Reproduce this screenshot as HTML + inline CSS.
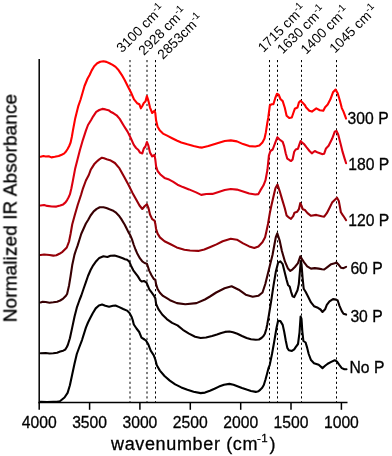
<!DOCTYPE html>
<html><head><meta charset="utf-8"><style>
html,body{margin:0;padding:0;background:#fff;}
svg{display:block;}
text{font-family:"Liberation Sans",sans-serif;fill:#000;}
.t{opacity:0.999;}
.t text{stroke:#000;stroke-width:0.3px;}
.t .nl text{stroke:none;}
</style></head><body>
<svg width="392" height="456" viewBox="0 0 392 456">
<g><line x1="130.0" y1="60.0" x2="130.0" y2="402" stroke="#000" stroke-width="1" stroke-dasharray="2.2 2.674"/><line x1="147.0" y1="60.0" x2="147.0" y2="402" stroke="#000" stroke-width="1" stroke-dasharray="2.2 2.674"/><line x1="155.5" y1="60.0" x2="155.5" y2="402" stroke="#000" stroke-width="1" stroke-dasharray="2.2 2.674"/><line x1="269.5" y1="60.0" x2="269.5" y2="402" stroke="#000" stroke-width="1" stroke-dasharray="2.2 2.674"/><line x1="277.5" y1="60.0" x2="277.5" y2="402" stroke="#000" stroke-width="1" stroke-dasharray="2.2 2.674"/><line x1="301.5" y1="60.0" x2="301.5" y2="402" stroke="#000" stroke-width="1" stroke-dasharray="2.2 2.674"/><line x1="336.5" y1="60.0" x2="336.5" y2="402" stroke="#000" stroke-width="1" stroke-dasharray="2.2 2.674"/></g>
<g fill="none" stroke-width="2.1" stroke-linejoin="round" stroke-linecap="round"><polyline points="40.6,401.9 47.0,402.0 53.3,401.9 57.0,401.8 59.9,401.2 64.5,397.5 67.6,392.9 69.9,385.2 72.2,374.5 74.5,363.8 76.8,354.0 79.0,348.0 82.1,339.8 85.9,327.6 88.0,322.5 90.0,318.6 92.6,313.5 95.7,308.4 98.9,305.5 102.1,304.6 105.3,305.8 109.1,306.7 113.0,305.8 115.5,305.5 119.3,307.1 123.2,309.0 127.0,310.6 129.5,312.9 131.5,316.7 132.7,320.0 133.8,324.5 136.5,328.5 139.2,332.0 141.5,337.6 144.5,339.5 146.1,340.8 148.4,344.6 150.7,350.7 153.8,355.3 155.3,359.5 156.8,365.3 159.9,370.6 164.5,376.0 169.8,380.6 175.2,384.4 181.3,387.4 187.4,389.7 193.6,391.7 200.7,393.1 205.0,392.6 209.9,390.8 214.5,388.8 219.0,386.6 224.0,384.8 229.4,383.9 233.5,384.7 237.4,386.2 242.0,388.0 246.6,389.6 251.0,391.0 255.8,391.9 258.5,391.3 260.4,389.6 262.2,387.7 263.8,385.0 265.5,379.5 266.8,374.7 268.4,368.4 269.7,365.0 272.0,354.0 274.2,341.7 276.5,328.0 278.1,320.8 280.4,321.1 282.7,324.9 284.2,331.8 285.7,340.2 287.3,347.9 288.8,350.2 291.9,350.9 294.2,349.4 295.7,347.1 298.0,344.0 299.5,332.6 300.6,316.5 301.5,318.8 302.3,331.0 303.4,341.0 305.6,342.5 307.2,347.9 308.7,354.0 311.0,360.1 314.0,363.2 318.7,364.7 322.5,368.1 325.1,365.8 327.7,363.7 331.2,361.9 334.7,360.2 337.0,361.6 339.1,364.6 341.8,368.1 344.4,369.3 346.5,369.3" stroke="#000000"/>
<polyline points="40.6,353.3 45.7,353.0 49.5,353.5 53.3,353.3 57.1,352.7 60.2,351.5 63.2,350.7 65.2,349.6 66.7,347.3 67.8,345.0 69.9,338.3 72.2,327.6 74.5,316.8 76.8,307.7 79.5,300.0 81.3,295.5 83.5,289.0 85.9,282.2 88.0,276.0 90.6,270.0 93.2,265.3 96.2,261.2 99.3,257.9 103.4,256.3 107.4,257.0 110.5,255.8 114.6,255.5 118.7,256.7 122.8,258.2 125.0,259.2 127.1,259.8 129.4,261.8 131.0,265.7 133.3,270.3 135.6,273.3 137.9,276.4 140.2,280.2 141.7,281.5 144.0,281.0 146.3,282.3 147.8,285.6 149.3,289.4 151.4,292.2 153.7,295.3 155.3,298.2 156.1,303.8 158.4,309.1 162.2,314.5 166.8,319.1 172.1,322.9 177.5,325.4 182.9,329.8 189.0,333.6 195.1,336.7 200.7,338.0 206.0,337.5 212.1,336.1 217.0,334.5 221.3,332.9 225.0,331.9 229.4,331.5 233.0,332.3 237.4,333.8 242.0,336.0 246.6,338.0 251.0,339.3 255.8,339.8 259.0,339.5 261.5,338.0 263.5,336.0 265.0,333.4 266.3,329.0 267.3,324.2 268.9,315.0 271.2,300.9 273.5,285.6 275.8,271.8 278.1,262.7 280.4,261.4 282.7,264.2 284.2,270.3 286.5,279.5 288.0,284.9 289.6,286.4 291.1,291.8 292.6,296.3 294.2,297.1 295.7,294.0 297.5,290.2 298.8,284.1 300.0,270.3 300.8,261.1 301.5,264.2 302.6,278.0 303.7,288.7 305.6,291.8 307.9,296.3 311.0,302.4 314.0,306.2 317.9,307.8 320.5,309.5 322.5,312.0 325.1,309.3 326.8,304.9 329.5,301.4 333.0,299.1 336.0,299.6 337.7,300.5 339.5,305.8 341.8,311.1 343.5,313.7 346.1,314.6" stroke="#0a0000"/>
<polyline points="40.6,302.4 42.6,301.8 45.7,302.0 49.5,302.7 53.3,302.3 57.1,301.7 60.2,300.5 63.2,298.6 65.5,296.3 67.1,294.0 69.1,285.2 70.6,276.0 72.2,265.3 74.5,254.6 76.0,250.0 77.5,245.9 79.5,239.5 81.3,233.7 85.9,223.5 88.1,220.0 90.6,215.5 93.7,211.4 96.7,208.9 99.8,207.3 103.4,207.2 106.4,208.1 109.5,209.3 112.6,210.4 115.6,212.3 118.7,215.4 121.2,218.9 124.6,224.5 126.5,228.3 128.4,232.1 130.3,235.3 131.9,239.1 133.8,245.0 135.5,249.5 137.1,253.2 140.0,258.4 142.3,261.4 144.6,263.0 146.9,263.7 147.7,266.0 149.2,270.6 151.5,275.2 153.8,279.0 155.3,279.8 156.1,284.4 157.6,289.0 159.9,292.8 163.0,295.9 166.8,298.2 170.0,300.2 176.9,303.1 185.3,304.3 196.5,303.1 204.9,299.5 210.0,296.5 216.2,292.5 224.6,288.3 231.6,286.3 238.7,289.7 245.7,294.7 252.7,296.7 258.3,295.8 262.5,292.5 265.3,284.0 268.1,272.8 272.5,255.0 274.3,245.2 275.8,237.2 277.3,233.4 279.6,240.3 281.9,251.0 285.0,261.7 288.0,268.6 290.3,270.9 292.6,269.3 294.9,267.0 298.0,263.2 300.3,256.3 302.1,259.4 304.1,262.4 307.2,266.3 311.0,268.6 314.8,268.1 318.7,268.6 322.0,269.3 324.2,269.5 327.7,266.8 331.2,264.2 334.7,263.3 336.5,262.5 338.2,264.2 340.9,267.7 343.5,268.2 346.1,266.8" stroke="#380003"/>
<polyline points="40.6,255.0 44.1,254.5 49.5,255.0 53.3,255.6 56.4,255.3 59.4,253.8 62.5,251.8 64.8,249.5 66.8,247.5 69.1,241.3 70.6,233.7 72.2,224.5 74.8,215.0 77.7,205.0 81.0,195.0 83.0,188.3 85.9,180.5 88.8,175.0 90.7,169.8 92.7,166.6 94.6,163.7 96.8,161.5 99.0,159.6 101.9,157.7 104.1,158.3 106.7,159.2 110.0,160.2 114.9,163.0 119.5,168.4 124.1,176.8 128.7,185.2 132.5,192.9 136.3,199.8 139.5,205.5 142.3,209.0 144.6,206.3 146.9,204.2 148.4,207.8 150.0,214.5 152.2,219.1 154.5,220.6 155.3,223.7 156.1,229.0 157.6,233.6 159.9,237.4 164.5,241.3 170.6,244.3 176.7,247.4 184.4,249.7 190.0,250.5 198.2,250.9 204.3,249.5 210.4,247.0 216.5,244.4 222.7,241.3 230.8,238.7 236.9,239.7 243.1,243.4 249.2,246.4 254.3,247.9 258.4,246.4 262.4,242.3 265.1,237.2 266.5,231.1 268.0,224.0 269.9,212.7 271.3,206.0 274.0,194.2 275.5,188.0 277.5,184.6 279.6,190.8 282.2,199.6 284.8,208.3 286.6,215.4 288.3,217.1 291.0,218.9 293.2,216.2 294.5,212.7 297.1,211.8 298.9,209.2 300.3,203.1 301.5,205.7 302.7,209.2 305.0,210.1 307.5,213.2 311.0,215.8 316.3,214.9 321.6,216.3 324.2,216.7 326.8,213.2 329.5,207.9 332.1,202.6 334.7,200.0 337.0,197.7 338.8,200.9 340.9,212.3 342.6,214.9 344.4,217.5 346.1,220.2" stroke="#940008"/>
<polyline points="40.6,205.5 44.1,205.0 47.2,205.9 51.8,206.5 56.4,206.6 60.2,205.5 63.2,204.4 65.5,202.4 67.1,200.1 68.5,197.5 69.9,194.4 71.4,188.3 72.9,180.6 75.2,168.4 77.5,159.5 79.8,150.5 82.9,139.8 85.9,130.6 88.0,125.0 91.1,120.0 93.2,116.3 96.2,111.9 99.3,110.0 102.3,108.9 105.4,109.4 108.5,110.2 110.5,111.7 113.6,113.3 116.6,115.3 119.7,118.9 123.8,125.7 127.7,131.9 130.7,138.0 133.8,144.9 136.1,148.0 138.4,150.0 140.0,152.6 142.3,153.4 143.8,148.5 145.4,146.5 146.9,142.0 148.4,145.7 150.0,152.6 152.2,156.4 154.5,154.9 155.3,159.5 156.1,166.4 157.6,171.0 160.7,174.8 164.5,177.9 169.1,179.6 172.9,181.7 177.5,184.7 182.9,187.1 189.0,189.4 196.1,192.4 201.2,194.9 206.3,194.0 212.4,193.9 218.6,192.0 224.7,190.0 230.8,189.0 236.9,189.6 243.1,191.4 249.2,193.5 255.3,194.5 258.4,194.1 260.4,190.4 263.5,185.3 265.5,180.2 267.4,170.0 268.9,155.6 270.4,151.0 272.7,149.5 275.0,143.4 277.3,137.3 279.6,139.5 282.7,141.8 284.2,146.4 285.7,153.3 287.3,158.7 289.6,160.2 291.1,161.0 292.6,159.5 294.2,151.8 295.7,149.5 298.0,148.7 299.5,144.1 300.6,141.1 302.1,142.6 304.1,144.1 306.4,147.2 309.5,151.0 311.8,153.3 314.8,151.0 317.9,152.6 322.0,154.1 324.2,153.7 326.0,148.4 328.6,145.8 332.1,138.8 334.7,131.8 336.5,130.9 338.2,134.4 340.9,144.9 342.6,151.9 344.4,157.9 346.1,163.2" stroke="#dd0010"/>
<polyline points="40.6,156.7 43.4,156.0 45.7,156.5 48.7,156.3 51.4,157.4 54.8,156.8 58.7,156.0 61.7,154.7 64.0,153.6 66.0,151.5 67.6,149.0 69.2,146.0 70.6,142.5 71.8,137.0 72.9,130.6 75.2,118.4 78.3,106.1 80.6,99.5 82.2,94.0 84.5,86.0 87.6,78.5 89.6,75.0 91.6,70.6 94.2,66.2 97.2,63.3 100.3,61.7 103.4,61.3 106.4,61.9 109.5,63.3 112.6,64.9 115.6,66.9 118.7,70.3 121.7,74.8 124.8,80.3 127.9,86.4 131.0,92.5 134.0,99.4 137.1,103.2 139.4,104.3 140.9,108.3 142.3,106.0 143.8,103.0 145.4,101.5 146.9,96.1 148.4,100.7 150.0,107.6 152.2,113.0 154.5,110.7 155.3,113.0 156.1,120.6 157.6,126.7 159.9,130.6 163.0,133.6 167.6,135.9 172.1,138.2 176.7,140.5 181.3,142.5 187.4,144.3 193.6,145.9 200.0,147.4 202.2,147.6 208.4,146.1 216.5,143.5 224.7,141.0 230.8,140.4 236.9,141.4 243.1,144.1 249.2,146.1 255.3,146.5 259.4,145.5 262.4,142.4 264.5,138.4 265.9,132.2 267.1,124.1 268.2,118.0 269.9,105.2 271.7,104.3 273.4,104.3 275.2,98.2 276.9,93.8 278.7,94.6 280.4,99.0 282.7,101.1 284.8,107.8 286.6,115.7 289.2,118.0 291.8,117.5 293.5,112.5 294.8,108.8 297.5,107.5 298.9,102.5 300.6,100.8 302.4,102.5 305.0,105.2 306.0,107.2 309.3,110.7 311.9,111.6 316.3,108.4 319.8,110.2 323.3,110.7 325.1,107.2 327.7,104.6 330.4,99.3 333.0,92.3 335.6,89.6 337.7,93.2 340.0,101.0 341.8,108.1 343.5,111.6 346.1,118.6" stroke="#ff0000"/></g>
<g stroke="#000" stroke-width="1.5" fill="none">
<line x1="39.2" y1="59" x2="39.2" y2="403.2"/>
<line x1="38.5" y1="402.5" x2="347.5" y2="402.5"/>
<line x1="39.2" y1="402.5" x2="39.2" y2="409.8"/><line x1="89.6" y1="402.5" x2="89.6" y2="409.8"/><line x1="139.9" y1="402.5" x2="139.9" y2="409.8"/><line x1="190.3" y1="402.5" x2="190.3" y2="409.8"/><line x1="240.7" y1="402.5" x2="240.7" y2="409.8"/><line x1="291.0" y1="402.5" x2="291.0" y2="409.8"/><line x1="341.4" y1="402.5" x2="341.4" y2="409.8"/>
</g>
<g class="t">
<g font-size="15.7"><text x="39.2" y="427.6" text-anchor="middle">4000</text><text x="89.6" y="427.6" text-anchor="middle">3500</text><text x="139.9" y="427.6" text-anchor="middle">3000</text><text x="190.3" y="427.6" text-anchor="middle">2500</text><text x="240.7" y="427.6" text-anchor="middle">2000</text><text x="291.0" y="427.6" text-anchor="middle">1500</text><text x="341.4" y="427.6" text-anchor="middle">1000</text></g>
<g class="nl" font-size="13.7"><text transform="translate(122.0 53.3) rotate(-45)">3100 cm<tspan dy="-5" font-size="10">-1</tspan></text><text transform="translate(144.0 56.0) rotate(-45)">2928 cm<tspan dy="-5" font-size="10">-1</tspan></text><text transform="translate(163.0 60.0) rotate(-45)">2853cm<tspan dy="-5" font-size="10">-1</tspan></text><text transform="translate(263.4 53.1) rotate(-45)">1715 cm<tspan dy="-5" font-size="10">-1</tspan></text><text transform="translate(282.8 54.6) rotate(-45)">1630 cm<tspan dy="-5" font-size="10">-1</tspan></text><text transform="translate(306.2 55.1) rotate(-45)">1400 cm<tspan dy="-5" font-size="10">-1</tspan></text><text transform="translate(334.9 53.8) rotate(-45)">1045 cm<tspan dy="-5" font-size="10">-1</tspan></text></g>
<g font-size="15.7"><text x="347.6" y="124.3">300 P</text><text x="348.2" y="170.0">180 P</text><text x="348.2" y="225.8">120 P</text><text x="350.4" y="274.0">60 P</text><text x="350.4" y="322.3">30 P</text><text x="349.5" y="373.0">No P</text></g>
<text x="111" y="449.8" font-size="18" letter-spacing="0.65">wavenumber (cm</text><text x="257" y="442.3" font-size="11.5">-</text><text x="261.3" y="442.3" font-size="11.5">1</text><text x="269.6" y="449.8" font-size="18">)</text>
<text transform="translate(16.5 322.3) rotate(-90)" font-size="19" letter-spacing="0.1">Normalized IR Absorbance</text>
</g>
</svg>
</body></html>
